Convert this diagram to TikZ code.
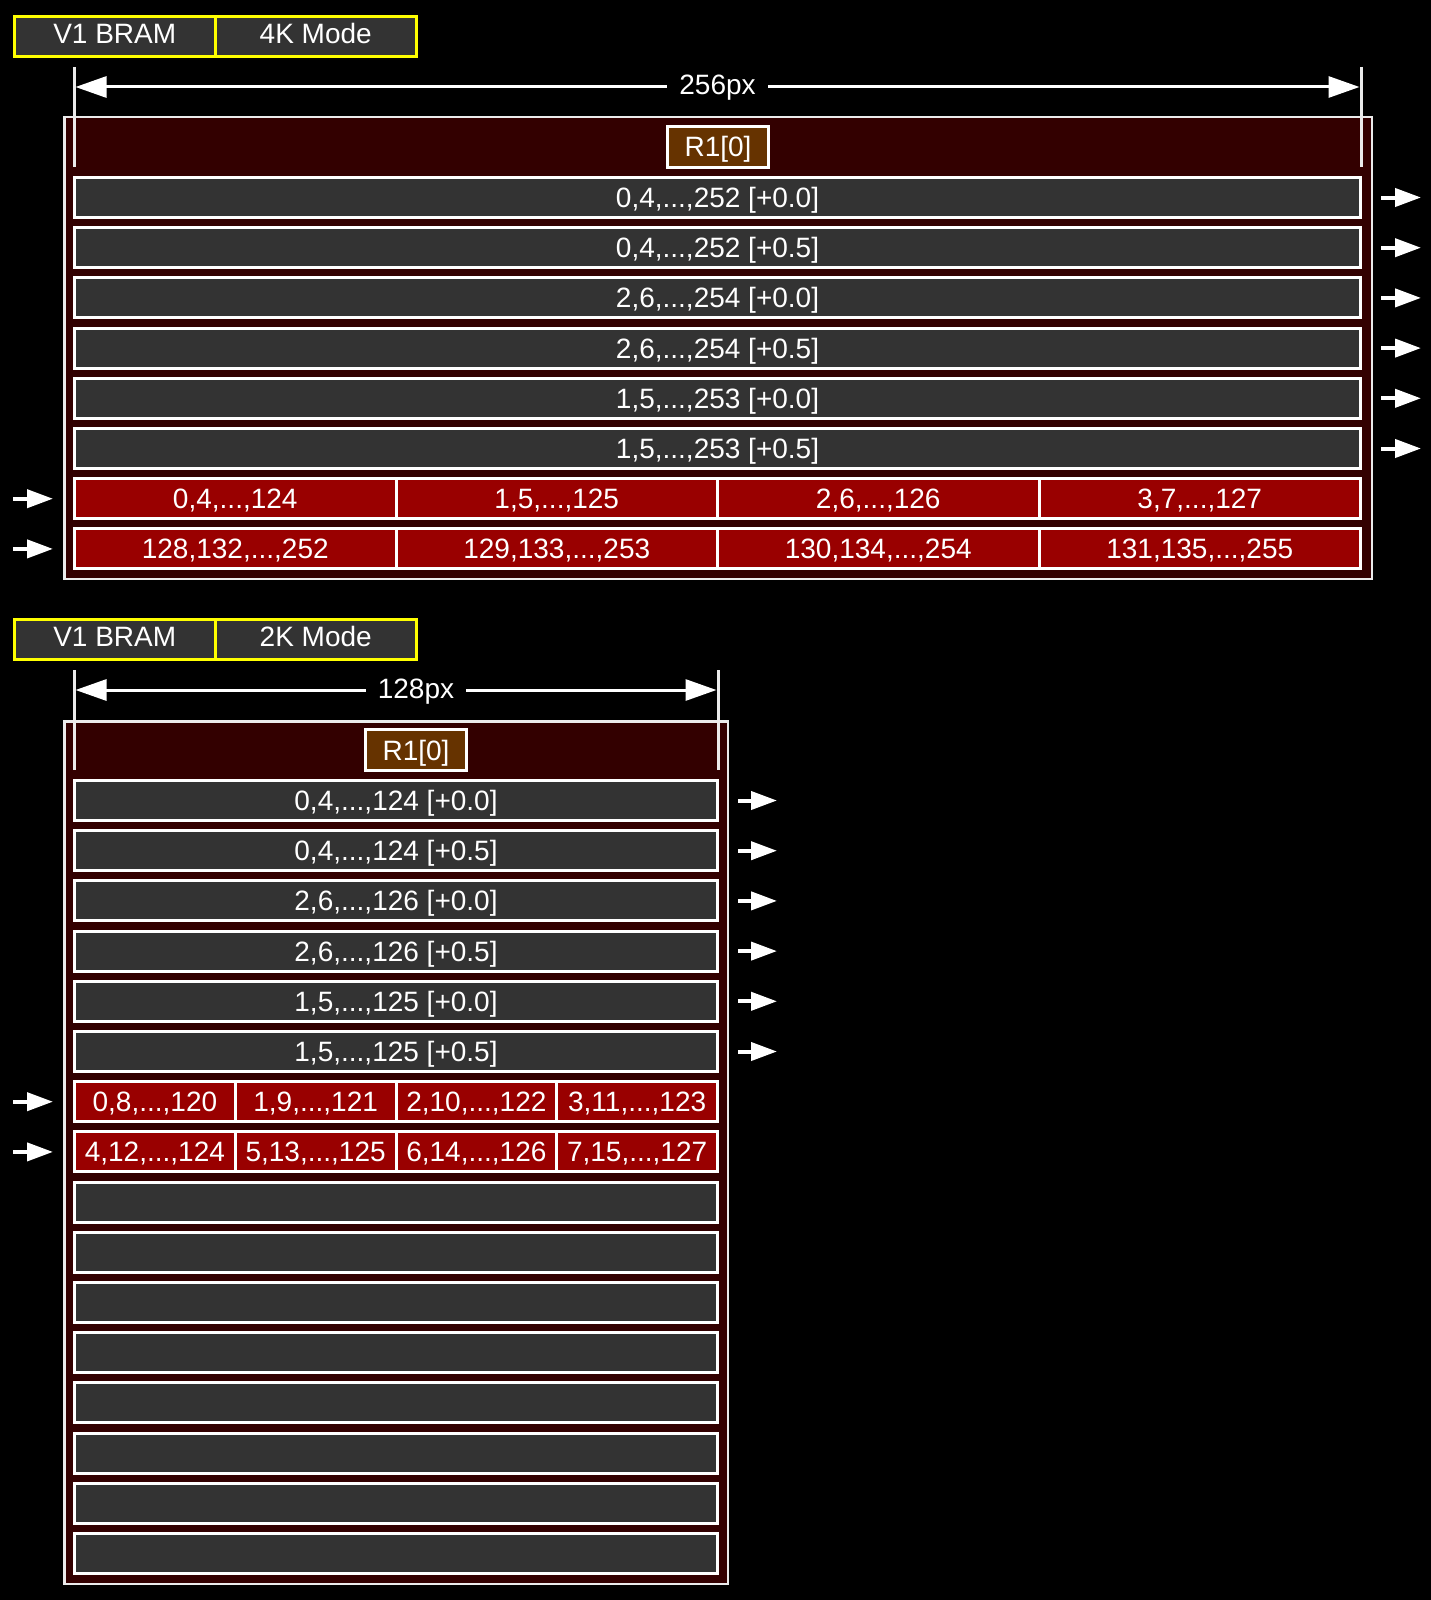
\documentclass[tikz,border=0pt]{standalone}
\usepackage{fontspec}
\setmainfont{Liberation Sans}
\usetikzlibrary{arrows.meta}
\definecolor{rowgray}{HTML}{333333}
\definecolor{cellred}{HTML}{990000}
\definecolor{hdrred}{HTML}{330000}
\definecolor{hdrbrown}{HTML}{663300}
\definecolor{ylw}{HTML}{FFFF00}
\definecolor{rim}{HTML}{EBEBEB}
\begin{document}
\begin{tikzpicture}[x=1pt,y=-1pt,
  lbl/.style={text=white,font=\fontsize{28}{33}\selectfont,text height=20pt,text depth=0pt,inner sep=0pt},
  tagbox/.style={lbl,draw=ylw,line width=3pt,fill=rowgray,minimum width=200.5pt,minimum height=40pt,text depth=6pt},
  outerbox/.style={draw=rim,line width=2.5pt,fill=hdrred,inner sep=0pt},
  rowbox/.style={lbl,draw=white,line width=3pt,fill=rowgray,minimum height=40pt},
  cellbox/.style={rowbox,fill=cellred},
  regbox/.style={lbl,draw=white,line width=3pt,fill=hdrbrown,minimum width=101pt,minimum height=41pt},
  tick/.style={draw=rim,line width=3pt},
  dimline/.style={draw=white,line width=3pt,{Triangle[length=31pt,width=21pt]}-{Triangle[length=31pt,width=21pt]}},
  dimlbl/.style={lbl,fill=black,inner xsep=12pt,inner ysep=2pt},
  flowarrow/.style={draw=white,line width=4pt,-{Triangle[length=26pt,width=18pt]}},
]
\fill[black] (0,0) rectangle (1431,1600);
\useasboundingbox (0,0) rectangle (1431,1600);

%% ===== Top diagram: 4K mode =====
\node[tagbox] (ta) at (114.75,36.5) {V1 BRAM};
\node[tagbox] (tb) at (315.75,36.5) {4K Mode};
\node[outerbox,minimum width=1307.5pt,minimum height=461.5pt] (tframe) at (718,348) {};
\coordinate (ttlA) at (74,67);
\coordinate (ttlB) at (74,167);
\coordinate (ttrA) at (1361,67);
\coordinate (ttrB) at (1361,167);
\draw[tick] (ttlA) -- (ttlB);
\draw[tick] (ttrA) -- (ttrB);
\coordinate (tdl) at (75.5,87);
\coordinate (tdr) at (1359.5,87);
\draw[dimline] (tdl) -- (tdr);
\node[dimlbl] (tdim) at (717.5,85) {256px};
\node[regbox] (treg) at (718,147) {R1[0]};
\foreach \i/\t in {0/{0,4,...,252 [+0.0]},1/{0,4,...,252 [+0.5]},2/{2,6,...,254 [+0.0]},3/{2,6,...,254 [+0.5]},4/{1,5,...,253 [+0.0]},5/{1,5,...,253 [+0.5]}}{
  \node[rowbox,minimum width=1286pt] (tr\i) at (717.5,{197.5+50.2*\i}) {\t};
  \draw[flowarrow] ([xshift=19pt]tr\i.east) -- ([xshift=59pt]tr\i.east);
}
\foreach \j/\t in {0/{0,4,...,124},1/{1,5,...,125},2/{2,6,...,126},3/{3,7,...,127}}{
  \node[cellbox,minimum width=321.5pt] (tc6\j) at ({235.25+321.5*\j},498.7) {\t};
}
\foreach \j/\t in {0/{128,132,...,252},1/{129,133,...,253},2/{130,134,...,254},3/{131,135,...,255}}{
  \node[cellbox,minimum width=321.5pt] (tc7\j) at ({235.25+321.5*\j},548.9) {\t};
}
\draw[flowarrow] ([xshift=-60pt]tc60.west) -- ([xshift=-20pt]tc60.west);
\draw[flowarrow] ([xshift=-60pt]tc70.west) -- ([xshift=-20pt]tc70.west);

%% ===== Bottom diagram: 2K mode =====
\node[tagbox] (ba) at (114.75,639.5) {V1 BRAM};
\node[tagbox] (bb) at (315.75,639.5) {2K Mode};
\node[outerbox,minimum width=663.5pt,minimum height=862.5pt] (bframe) at (396,1152.5) {};
\coordinate (btlA) at (74,670);
\coordinate (btlB) at (74,770);
\coordinate (btrA) at (718,670);
\coordinate (btrB) at (718,770);
\draw[tick] (btlA) -- (btlB);
\draw[tick] (btrA) -- (btrB);
\coordinate (bdl) at (75.5,690);
\coordinate (bdr) at (716.5,690);
\draw[dimline] (bdl) -- (bdr);
\node[dimlbl] (bdim) at (416,688) {128px};
\node[regbox] (breg) at (416,750) {R1[0]};
\foreach \i/\t in {0/{0,4,...,124 [+0.0]},1/{0,4,...,124 [+0.5]},2/{2,6,...,126 [+0.0]},3/{2,6,...,126 [+0.5]},4/{1,5,...,125 [+0.0]},5/{1,5,...,125 [+0.5]}}{
  \node[rowbox,minimum width=643pt] (br\i) at (396,{800.5+50.2*\i}) {\t};
  \draw[flowarrow] ([xshift=19pt]br\i.east) -- ([xshift=58pt]br\i.east);
}
\foreach \j/\t in {0/{0,8,...,120},1/{1,9,...,121},2/{2,10,...,122},3/{3,11,...,123}}{
  \node[cellbox,minimum width=160.75pt] (bc6\j) at ({154.875+160.75*\j},1101.7) {\t};
}
\foreach \j/\t in {0/{4,12,...,124},1/{5,13,...,125},2/{6,14,...,126},3/{7,15,...,127}}{
  \node[cellbox,minimum width=160.75pt] (bc7\j) at ({154.875+160.75*\j},1151.9) {\t};
}
\draw[flowarrow] ([xshift=-60pt]bc60.west) -- ([xshift=-20pt]bc60.west);
\draw[flowarrow] ([xshift=-60pt]bc70.west) -- ([xshift=-20pt]bc70.west);
\foreach \i in {8,...,15}{
  \node[rowbox,minimum width=643pt] (br\i) at (396,{800.5+50.2*\i}) {};
}
\end{tikzpicture}
\end{document}
